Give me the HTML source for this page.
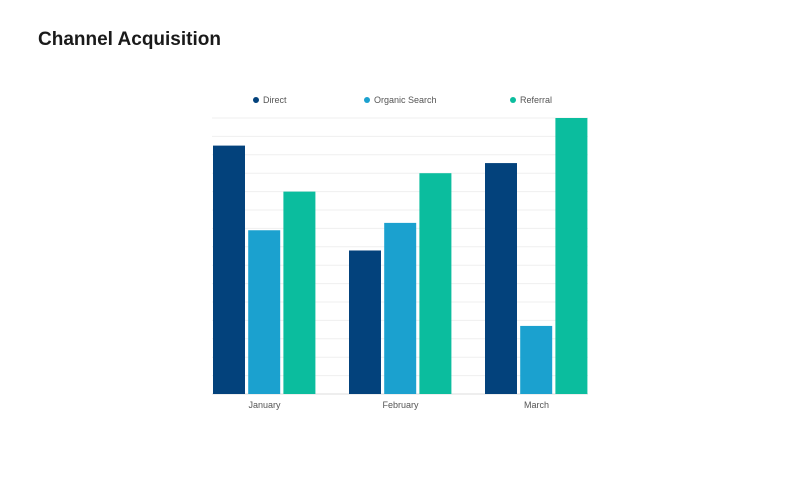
<!DOCTYPE html>
<html><head><meta charset="utf-8"><style>
body{margin:0;background:#fff;width:800px;height:500px;overflow:hidden;font-family:"Liberation Sans",sans-serif}
h1{position:absolute;left:38px;top:29px;margin:0;font-size:19px;font-weight:bold;color:#1a1a1a}
svg{position:absolute;left:0;top:0}
</style></head><body>
<h1>Channel Acquisition</h1>
<svg id="c" width="800" height="500"></svg>
<script>
const categories=["January","February","March"];
const seriesNames=["Direct","Organic Search","Referral"];
const direct=[13.5,7.8,12.55];
const organic=[8.9,9.3,3.7];
const referral=[11,12,15];
const colors=["#03427c","#1ba1cf","#0bbd9e"];
const yMax=15, gridCount=15;
const svg=document.getElementById('c');
const NS="http://www.w3.org/2000/svg";
const top0=118,base=394,left=212,right=588;
const y=v=>base-(v/yMax)*(base-top0);
const groupX=i=>213+136*i;
const barW=32,barGap=3.2;
function mk(t,a){const e=document.createElementNS(NS,t);for(const k in a)e.setAttribute(k,a[k]);svg.appendChild(e);return e;}
for(let i=0;i<=gridCount;i++){const v=yMax*i/gridCount;
 const g=mk('line',{x1:left,x2:right,y1:y(v),y2:y(v),stroke:i==0?'#ddd':'#efefef','stroke-width':1});
 
 }
const series=[direct,organic,referral];
series.forEach((s,si)=>{s.forEach((v,ci)=>{
 const r=mk('rect',{x:groupX(ci)+si*(barW+barGap),y:y(v),width:barW,height:base-y(v),fill:colors[si]});
 
 });});
categories.forEach((c,ci)=>{
 const t=mk('text',{x:groupX(ci)+51.5,y:408,'text-anchor':'middle','font-size':9,fill:'#555'});
 t.textContent=c;
 
 });
const legX=[256,367,513];
seriesNames.forEach((n,i)=>{
 const d=mk('circle',{cx:legX[i],cy:100,r:3,fill:colors[i]});
 
 
 const t=mk('text',{x:legX[i]+7,y:103,'font-size':9,fill:'#555'});
 t.textContent=n;
 
 });
</script>
</body></html>
